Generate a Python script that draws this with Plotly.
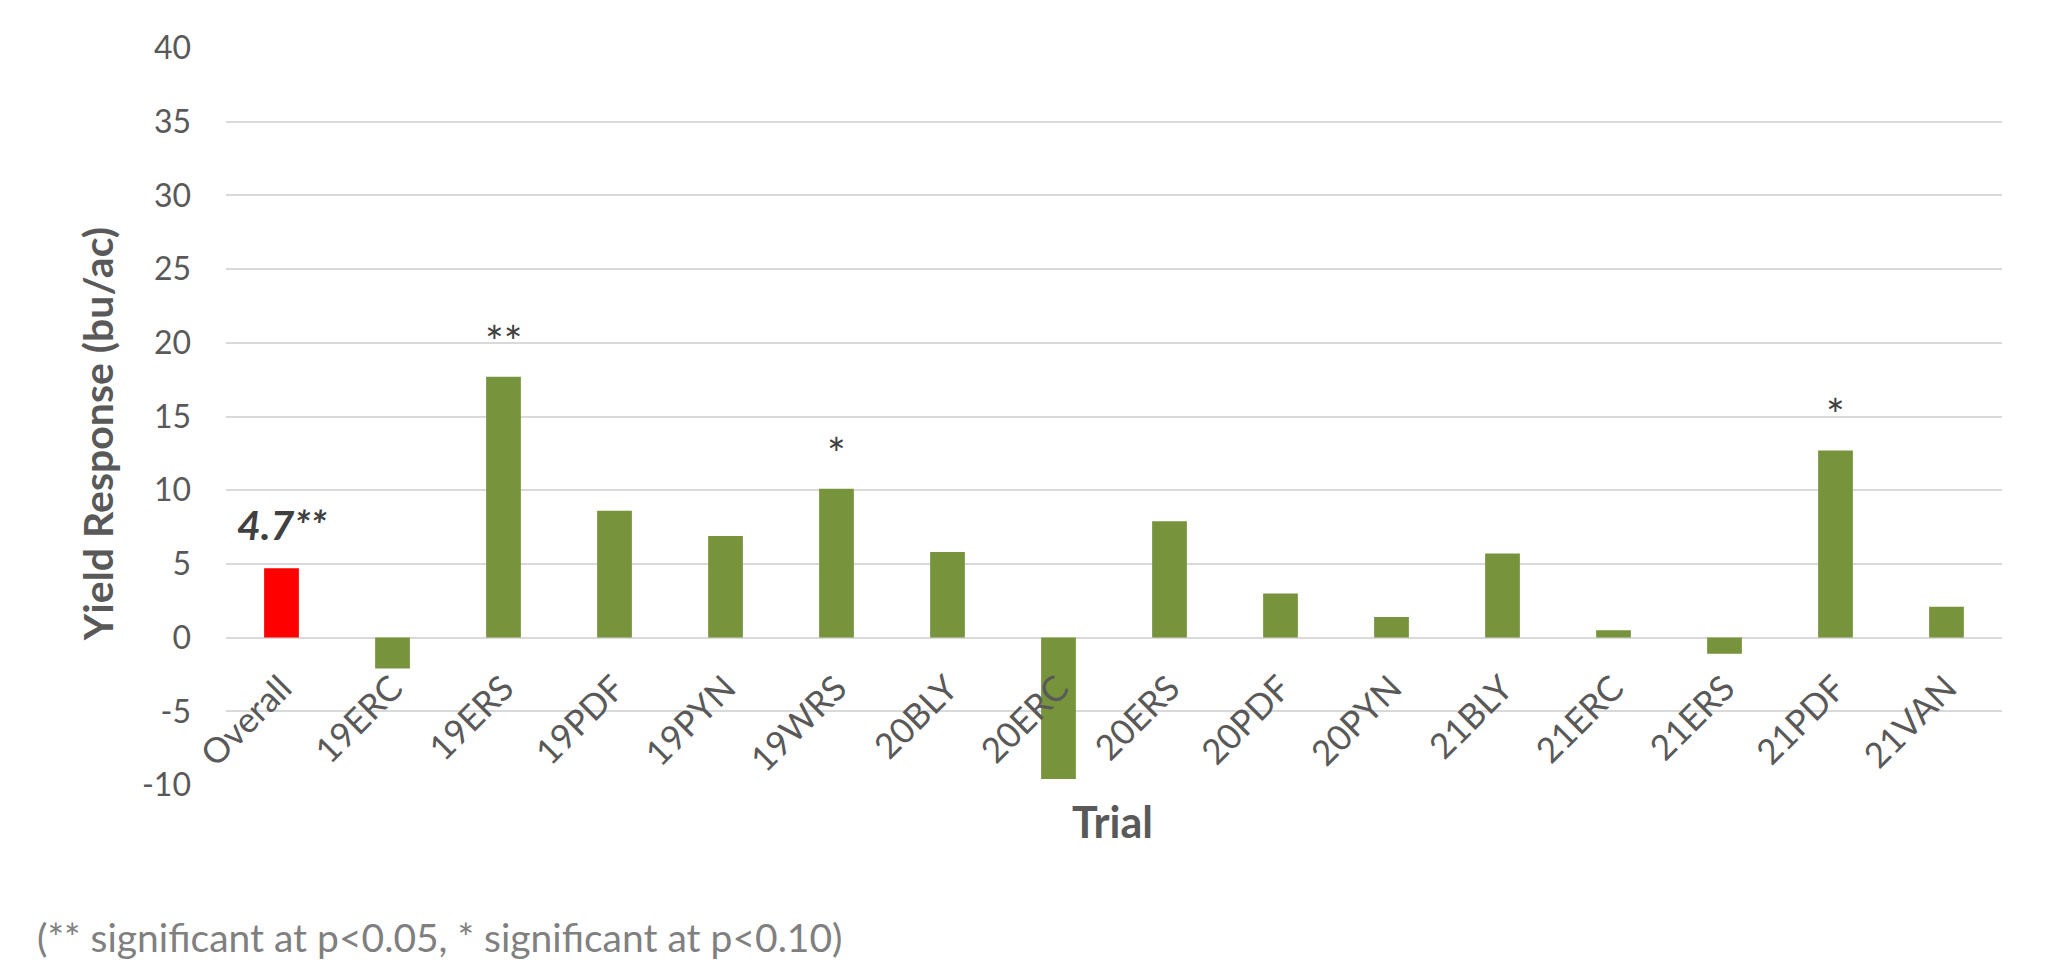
import plotly.graph_objects as go

trials = ["Overall", "19ERC", "19ERS", "19PDF", "19PYN", "19WRS", "20BLY", "20ERC",
          "20ERS", "20PDF", "20PYN", "21BLY", "21ERC", "21ERS", "21PDF", "21VAN"]
response = [4.7, -2.1, 17.7, 8.6, 6.9, 10.1, 5.8, -9.6,
            7.9, 3.0, 1.4, 5.7, 0.5, -1.1, 12.7, 2.1]
signif = ["4.7**", "", "**", "", "", "*", "", "",
          "", "", "", "", "", "", "*", ""]
y_ticks = [-10, -5, 0, 5, 10, 15, 20, 25, 30, 35, 40]
y_tick_labels = ["-10", "-5", "0", "5", "10", "15", "20", "25", "30", "35", "40"]

RED = "#FF0000"
GREEN = "#77933C"
TXT = "#595959"
FONT = "Lato"

colors = [RED] + [GREEN] * (len(trials) - 1)

fig = go.Figure()
fig.add_trace(go.Bar(x=trials, y=response, marker=dict(color=colors, line=dict(width=0)),
                     hoverinfo="x+y"))

annotations = []
for t, v, s in zip(trials, response, signif):
    if not s:
        continue
    if t == "Overall":
        annotations.append(dict(x=t, y=v, xref="x", yref="y", text="<b><i>" + s + "</i></b>",
                                showarrow=False, yanchor="middle", yshift=44,
                                font=dict(family=FONT, size=41, color="#404040")))
    else:
        annotations.append(dict(x=t, y=v, xref="x", yref="y", text=s,
                                showarrow=False, yanchor="bottom", yshift=8,
                                font=dict(family=FONT, size=44, color="#404040")))

annotations.append(dict(text="<b>Yield Response (bu/ac)</b>", textangle=-90,
                        xref="paper", yref="paper", x=-0.0726, y=0.476,
                        xanchor="center", yanchor="middle", showarrow=False,
                        font=dict(family=FONT, size=41, color=TXT)))
annotations.append(dict(text="<b>Trial</b>", xref="paper", yref="paper", x=0.4989, y=-0.0502,
                        xanchor="center", yanchor="middle", showarrow=False,
                        font=dict(family=FONT, size=43, color=TXT)))
annotations.append(dict(text="(** significant at p<0.05, * significant at p<0.10)",
                        xref="paper", yref="paper", x=-0.1075, y=-0.206,
                        xanchor="left", yanchor="middle", showarrow=False,
                        font=dict(family=FONT, size=39, color="#808080")))

fig.update_layout(
    width=2048, height=967,
    margin=dict(l=226, r=46, t=48, b=182),
    plot_bgcolor="white", paper_bgcolor="white",
    bargap=0.687,
    showlegend=False,
    annotations=annotations,
    xaxis=dict(type="category", anchor="free", position=0.2, tickangle=-45,
               showgrid=False, showline=False, zeroline=False, ticks="",
               ticklabelstandoff=22,
               tickfont=dict(family=FONT, size=35, color=TXT)),
    yaxis=dict(range=[-10, 40], tickvals=y_ticks, ticktext=y_tick_labels,
               showgrid=True, gridcolor="#D9D9D9",
               gridwidth=2, zeroline=False, showline=False, ticks="",
               ticklabelstandoff=34,
               tickfont=dict(family=FONT, size=32, color=TXT)),
)

fig.write_html("out.html")
